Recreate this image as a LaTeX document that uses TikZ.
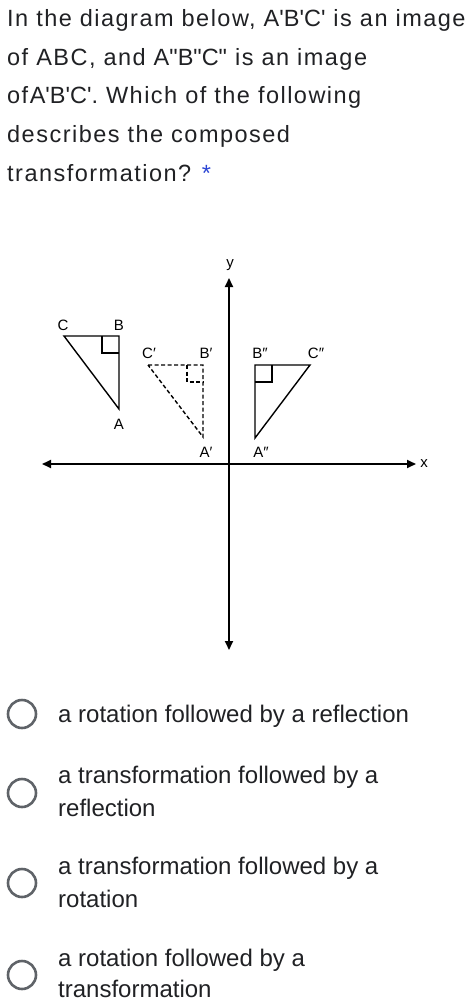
\documentclass[tikz,border=0pt]{standalone}
\usepackage{fontspec}
\setmainfont{Liberation Sans}
\newfontfamily\qfont[LetterSpace=6.3]{Liberation Sans}
\usetikzlibrary{arrows.meta}
\definecolor{txt}{HTML}{202124}
\definecolor{star}{HTML}{2B45D4}
\definecolor{radio}{HTML}{5F6368}
\newcommand{\sq}{\textquotesingle}
\newcommand{\dq}{\textquotedbl}
\begin{document}
\begin{tikzpicture}[x=1pt,y=-1pt,
  qline/.style={anchor=base west,inner sep=0pt,font=\qfont\fontsize{23.5}{26}\selectfont,text=txt},
  optline/.style={anchor=base west,inner sep=0pt,font=\fontsize{24}{28}\selectfont,text=txt},
  radiobtn/.style={circle,draw=radio,line width=2.6pt,minimum size=28pt,inner sep=0pt},
  axis/.style={line width=1.8pt,-{Triangle[length=9pt,width=8pt]}},
  tri/.style={line width=1.4pt,line join=miter},
  dtri/.style={line width=1.4pt,dash pattern=on 4pt off 2.5pt},
  lbl/.style={inner sep=0pt,font=\fontsize{15}{17}\selectfont}]
\useasboundingbox (0,0) rectangle (474,1003);
% question text
\node[qline] (q1) at (7,27) {In the diagram below, A\sq B\sq C\sq{} is an image};
\node[qline] (q2) at (7,65.5) {of ABC, and A\dq B\dq C\dq{} is an image};
\node[qline] (q3) at (7,104) {ofA\sq B\sq C\sq. Which of the following};
\node[qline] (q4) at (7,143) {describes the composed};
\node[qline] (q5) at (7,182) {transformation? \textcolor{star}{*}};
% axes
\coordinate (O) at (229,464);
\coordinate (xl) at (42,464);
\coordinate (xr) at (416,464);
\coordinate (yt) at (229,278);
\coordinate (yb) at (229,650);
\draw[axis] (O) -- (xl);
\draw[axis] (O) -- (xr);
\draw[axis] (O) -- (yt);
\draw[axis] (O) -- (yb);
\node[lbl] (xlab) at (424,464) {x};
\node[lbl] (ylab) at (230,265) {y};
% triangle ABC
\coordinate (C) at (64,336);
\coordinate (B) at (119,336);
\coordinate (A) at (119,409);
\draw[tri] (C) -- (B) -- (A) -- cycle;
\draw[line width=1.3pt] (102,336) -- (102,353) -- (119,353);
\node[lbl] (lC) at (63,325) {C};
\node[lbl] (lB) at (119,325) {B};
\node[lbl] (lA) at (119,424) {A};
% triangle A'B'C'
\coordinate (C1) at (148,365);
\coordinate (B1) at (203,365);
\coordinate (A1) at (203,437);
\draw[dtri] (C1) -- (B1) -- (A1) -- cycle;
\draw[dtri] (187,365) -- (187,382) -- (203,382);
\node[lbl] (lC1) at (149,353) {C′};
\node[lbl] (lB1) at (206,353) {B′};
\node[lbl] (lA1) at (206,452) {A′};
% triangle A''B''C''
\coordinate (B2) at (255,365);
\coordinate (C2) at (310,365);
\coordinate (A2) at (255,438);
\draw[tri] (B2) -- (C2) -- (A2) -- cycle;
\draw[line width=1.3pt] (255,382) -- (272,382) -- (272,365);
\node[lbl] (lB2) at (260,353) {B″};
\node[lbl] (lC2) at (316,353) {C″};
\node[lbl] (lA2) at (261,452) {A″};
% options
\node[radiobtn] (r1) at (22,714) {};
\node[optline] (o1) at (58,722) {a rotation followed by a reflection};
\node[radiobtn] (r2) at (22,793) {};
\node[optline] (o2a) at (58,783) {a transformation followed by a};
\node[optline] (o2b) at (58,816) {reflection};
\node[radiobtn] (r3) at (22,883) {};
\node[optline] (o3a) at (58,874) {a transformation followed by a};
\node[optline] (o3b) at (58,907) {rotation};
\node[radiobtn] (r4) at (22,975) {};
\node[optline] (o4a) at (58,966) {a rotation followed by a};
\node[optline] (o4b) at (58,997) {transformation};
\end{tikzpicture}
\end{document}
